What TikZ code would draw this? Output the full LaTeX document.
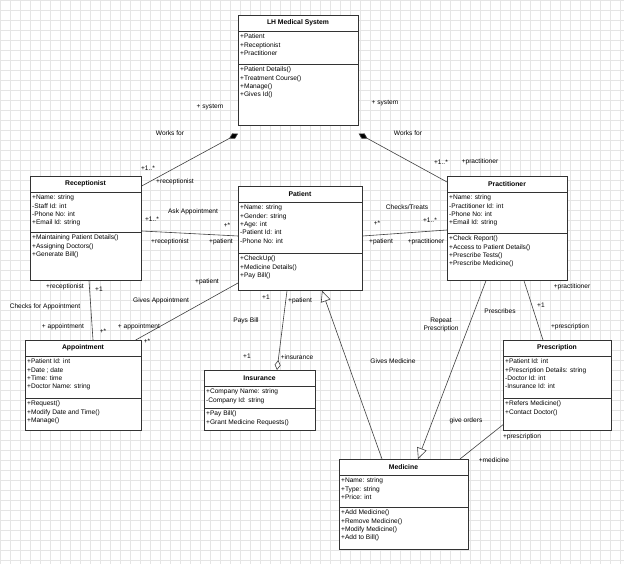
\documentclass[tikz,border=0pt]{standalone}
\usepackage{fontspec}
\setmainfont{Liberation Sans}
\usetikzlibrary{arrows.meta,calc}
\tikzset{
  lbl/.style={font=\fontsize{6.6}{7.8}\selectfont,inner sep=0.5pt,align=center},
  conn/.style={draw=black!75,line width=0.6pt},
  comp/.style={conn,{Diamond[fill=black,length=10pt,width=6pt]}-},
  aggr/.style={conn,{Diamond[open,fill=white,length=10pt,width=6pt]}-},
  gen/.style={conn,-{Triangle[open,fill=white,length=11pt,width=10pt]}},
}
\newcommand\umlbox[9]{%
  \node[draw=black!80,line width=0.7pt,fill=white,minimum width=#4,minimum height=#6,anchor=north west,inner sep=0] (#1) at (#2,#3) {};
  \draw[black!80,line width=0.6pt] ({#2},{#3+16})--++(#4,0);
  \draw[black!80,line width=0.6pt] ({#2},{#3+16+#5})--++(#4,0);
  \node[font=\fontsize{6.8}{8}\selectfont\bfseries] at ({#2+#4/2},{#3+8}) {#7};
  \node[anchor=north west,align=left,inner sep=0,font=\fontsize{6.6}{8.3}\selectfont] at ({#2+2},{#3+19}) {#8};
  \node[anchor=north west,align=left,inner sep=0,font=\fontsize{6.6}{8.3}\selectfont] at ({#2+2},{#3+19+#5}) {#9};
}
\begin{document}
\begin{tikzpicture}[x=1pt,y=-1pt]
\useasboundingbox (0,0) rectangle (624,564);
\fill[white] (0,0) rectangle (624,564);
\foreach \i in {0,10,...,620} \draw[black!10,line width=0.3pt] (\i,0) -- (\i,564);
\foreach \i in {0,10,...,560} \draw[black!10,line width=0.3pt] (0,\i) -- (624,\i);
\umlbox{lh}{238}{15}{120}{33}{110}{LH Medical System}{+Patient\\+Receptionist\\+Practitioner}{+Patient Details()\\+Treatment Course()\\+Manage()\\+Gives Id()}
\umlbox{rec}{30}{176}{111}{40}{104}{Receptionist}{+Name: string\\-Staff Id: int\\-Phone No: int\\+Email Id: string}{+Maintaining Patient Details()\\+Assigning Doctors()\\+Generate Bill()}
\umlbox{pat}{238}{186}{124}{51}{104}{Patient}{+Name: string\\+Gender: string\\+Age: int\\-Patient Id: int\\-Phone No: int}{+CheckUp()\\+Medicine Details()\\+Pay Bill()}
\umlbox{pra}{447}{176}{120}{41}{104}{Practitioner}{+Name: string\\-Practitioner Id: int\\-Phone No: int\\+Email Id: string}{+Check Report()\\+Access to Patient Details()\\+Prescribe Tests()\\+Prescribe Medicine()}
\umlbox{app}{25}{340}{116}{42}{90}{Appointment}{+Patient Id: int\\+Date ; date\\+Time: time\\+Doctor Name: string}{+Request()\\+Modify Date and Time()\\+Manage()}
\umlbox{ins}{204}{370}{111}{22}{60}{Insurance}{+Company Name: string\\-Company Id: string}{+Pay Bill()\\+Grant Medicine Requests()}
\umlbox{pre}{503}{340}{108}{42}{90}{Prescription}{+Patient Id: int\\+Prescription Details: string\\-Doctor Id: int\\-Insurance Id: int}{+Refers Medicine()\\+Contact Doctor()}
\umlbox{med}{339}{459}{129}{32}{90}{Medicine}{+Name: string\\+Type: string\\+Price: int}{+Add Medicine()\\+Remove Medicine()\\+Modify Medicine()\\+Add to Bill()}
% connectors
\draw[comp] ([yshift=-8]lh.south west) -- ([yshift=-10]rec.north east);
\draw[comp] ([yshift=-8]lh.south east) -- ([yshift=-6]pra.north west);
\draw[conn] ([yshift=-55]rec.north east) -- ([yshift=-50]pat.north west);
\draw[conn] ([yshift=-50]pat.north east) -- ([yshift=-54]pra.north west);
\draw[conn] ([xshift=59]rec.south west) -- ([xshift=68]app.north west);
\draw[conn] ([yshift=-97]pat.north west) -- ([xshift=-6]app.north east);
\draw[aggr] ([xshift=73]ins.north west) -- ([xshift=49]pat.south west);
\draw[gen] ([xshift=43]med.north west) -- ([xshift=84]pat.south west);
\draw[gen] ([xshift=39]pra.south west) -- ([xshift=79]med.north west);
\draw[conn] ([xshift=77]pra.south west) -- ([xshift=40]pre.north west);
\draw[conn] ([yshift=6]pre.south west) -- ([xshift=121]med.north west);
% labels
\foreach \p/\t in {
 {210,107}/+ system, {170,133}/Works for, {148,168}/+1..*, {175,182}/+receptionist,
 {385,103}/+ system, {408,133}/Works for, {441,162}/+1..*, {480,162}/+practitioner,
 {193,212}/Ask Appointment, {152,219}/+1..*, {227,225}/+*, {170,242}/+receptionist, {221,242}/+patient,
 {377,223}/+*, {430,220}/+1..*, {381,242}/+patient, {426,242}/+practitioner,
 {65,287}/+receptionist, {99,289}/+1, {45,307}/Checks for Appointment, {63,327}/+ appointment,
 {103,331}/+*, {139,327}/+ appointment, {207,282}/+patient, {161,301}/Gives Appointment, {147,341}/+*,
 {266,297}/+1, {300,301}/+patient, {246,321}/Pays Bill, {247,356}/+1, {297,357}/+insurance,
 {393,361}/Gives Medicine, {500,311}/Prescribes, {572,287}/+practitioner, {541,305}/+1,
 {570,327}/+prescription, {466,421}/give orders, {522,437}/+prescription, {494,460}/+medicine}
 \node[lbl] at (\p) {\t};
\node[lbl] (ct) at (407,207) {Checks/Treats};
\node[lbl] (rp) at (441,325) {Repeat\\Prescription};
\end{tikzpicture}
\end{document}
